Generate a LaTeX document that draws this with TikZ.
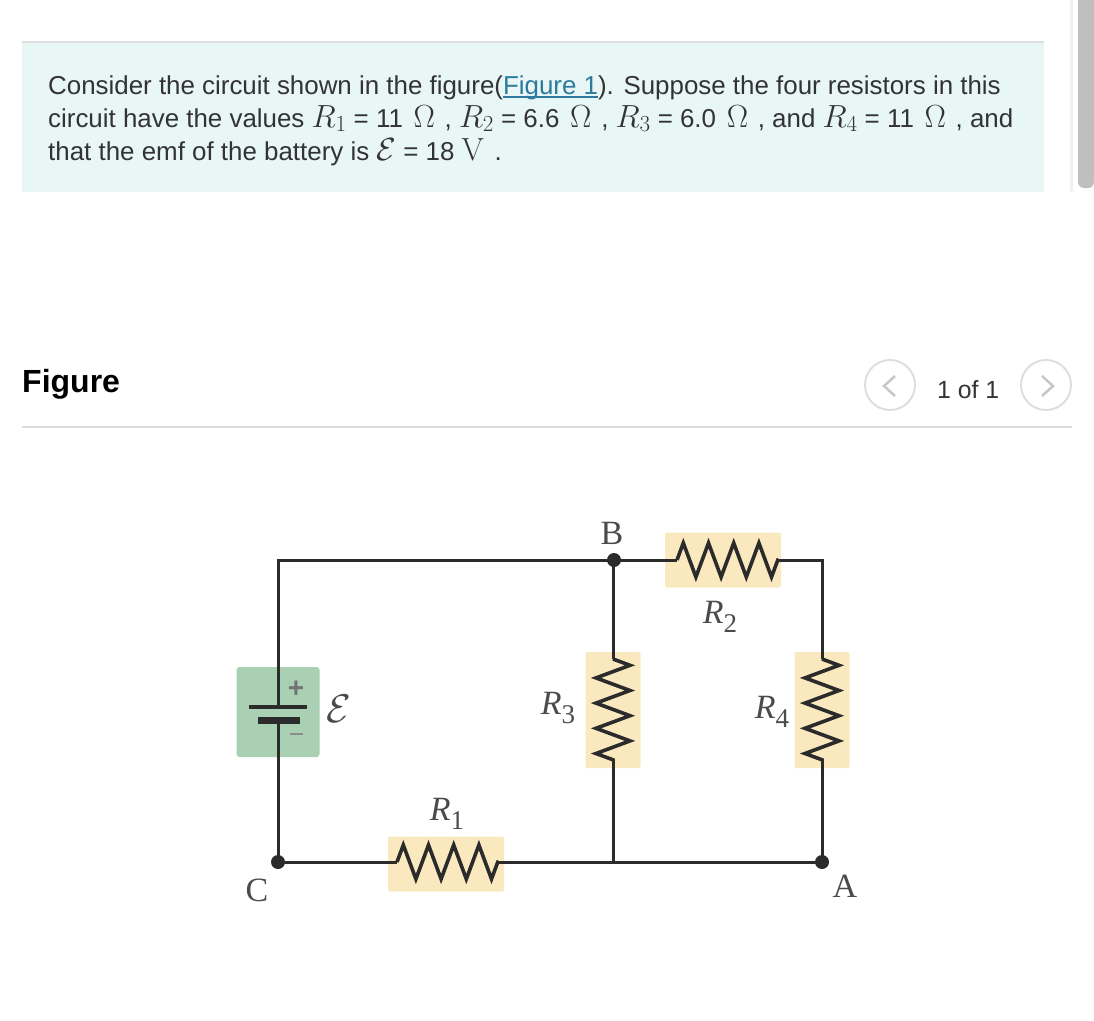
\RequirePackage{fix-cm}
\documentclass[tikz,border=0pt]{standalone}
\usepackage[no-math]{fontspec}
\setmainfont{Liberation Sans}
\newfontfamily\labelfont{Liberation Serif}
\usetikzlibrary{decorations.pathmorphing}
\DeclareMathSizes{25.9}{32}{23}{17}
\definecolor{bandfill}{HTML}{E8F6F6}
\definecolor{rulegray}{HTML}{DEDEDE}
\definecolor{bodytext}{HTML}{333333}
\definecolor{linkblue}{HTML}{2C7A9E}
\definecolor{wirecol}{HTML}{2B2B2B}
\definecolor{resfill}{HTML}{FAE8BE}
\definecolor{batfill}{HTML}{A9D0B2}
\newcommand{\rlabel}[1]{\textit{R}\raisebox{-9pt}{\fontsize{27}{28}\selectfont #1}}
\newcommand{\figlink}[1]{\textcolor{linkblue}{\setbox0\hbox{#1}\rlap{\rule[-3.5pt]{\wd0}{1.6pt}}\box0}}
\newcommand{\ohmsign}{\hspace{3.5pt}$\Omega$\hspace{9.7pt}}
\tikzset{
  txt/.style= {anchor=base west, inner sep=0, text=bodytext, font=\fontsize{25.9}{30}\selectfont},
  lbl/.style= {inner sep=0, text=wirecol!85, font=\labelfont\fontsize{34}{36}\selectfont},
  wire/.style= {draw=wirecol, line width=3pt},
  zig/.style= {wire, line width=3.6pt, decorate, decoration={zigzag, segment length=25.2pt, amplitude=17pt}},
  dot/.style= {circle, fill=wirecol, inner sep=0, minimum size=14pt},
  resh/.style= {fill=resfill, rounded corners=2pt, inner sep=0, minimum width=116pt, minimum height=55pt},
  resv/.style= {fill=resfill, rounded corners=2pt, inner sep=0, minimum width=55pt, minimum height=116pt},
  navbtn/.style= {circle, draw=rulegray, line width=2pt, inner sep=0, minimum size=50pt},
  chev/.style= {draw=black!22, line width=2.5pt},
}
\begin{document}
\begin{tikzpicture}[x=1pt, y=-1pt]
  \useasboundingbox (0,0) rectangle (1094,1020) ;
  % question band
  \fill [bandfill] (22,42) rectangle (1044,192) ;
  \draw [rulegray, line width=2pt] (22,42) -- (1044,42) ;
  \node [txt] (line1) at (48,94) {Consider the circuit shown in the figure(\figlink{Figure 1}). Suppose the four resistors in this} ;
  \node [txt] (line2) at (48,127) {circuit have the values $R_1$ = 11 \ohmsign, $R_2$ = 6.6 \ohmsign, $R_3$ = 6.0 \ohmsign, and $R_4$ = 11 \ohmsign, and} ;
  \node [txt] (line3) at (48,160) {that the emf of the battery is $\mathcal{E}$ = 18 $\mathrm{V}$\hspace{3pt} .} ;
  % scrollbar
  \fill [black!6] (1070,0) rectangle (1073,192) ;
  \fill [black!25, rounded corners=6pt] (1078,-10) rectangle (1094,188) ;
  % figure header
  \node [txt, text=black, font=\bfseries\fontsize{32}{36}\selectfont] (fighead) at (22,392) {Figure} ;
  \node [navbtn] (prev) at (890,385) {} ;
  \node [navbtn] (next) at (1046,385) {} ;
  \draw [chev] (895,376) -- (884,386) -- (895,396) ;
  \draw [chev] (1042,376) -- (1053,386) -- (1042,396) ;
  \node [txt, font=\fontsize{24.8}{30}\selectfont] (count) at (937,398) {1 of 1} ;
  \draw [rulegray, line width=2pt] (22,427) -- (1072,427) ;
  % parts behind the wires
  \node [fill=batfill, rounded corners=3pt, inner sep=0, minimum width=83pt, minimum height=90pt] (bat) at (278,712) {} ;
  \node [resh] (r1box) at (446,864) {} ;
  \node [resh] (r2box) at (723,560) {} ;
  \node [resv] (r3box) at (613,710) {} ;
  \node [resv] (r4box) at (822,710) {} ;
  % junctions
  \node [dot] (b) at (614,560) {} ;
  \node [dot] (c) at (278,862) {} ;
  \node [dot] (a) at (822,862) {} ;
  \coordinate (tl) at (278,560) ;
  \coordinate (tr) at (822,560) ;
  \coordinate (bm) at (613,862) ;
  \coordinate (r1in) at (397,862) ;
  \coordinate (r1out) at (498,862) ;
  \coordinate (r2in) at (677,560) ;
  \coordinate (r2out) at (778,560) ;
  \coordinate (r3in) at (613,659) ;
  \coordinate (r3out) at (613,760) ;
  \coordinate (r4in) at (822,659) ;
  \coordinate (r4out) at (822,760) ;
  % battery plates
  \node [fill=wirecol, inner sep=0, minimum width=58pt, minimum height=3.5pt] (platep) at (278,707) {} ;
  \node [fill=wirecol, inner sep=0, minimum width=42pt, minimum height=7pt] (platem) at (279,720) {} ;
  \draw [wire] (platep.center) -- (tl) -- (b.center) ;
  \draw [wire] (platem.center -| c) -- (c.center) ;
  \draw [wire] (c.center) -- (r1in) ;
  \draw [zig] (r1in) -- (r1out) ;
  \draw [wire] (r1out) -- (bm) -- (a.center) ;
  \draw [wire] (b.center) -- (r2in) ;
  \draw [zig] (r2in) -- (r2out) ;
  \draw [wire] (r2out) -- (tr) -- (r4in) ;
  \draw [wire] (b.center -| r3in) -- (r3in) ;
  \draw [zig] (r3in) -- (r3out) ;
  \draw [wire] (r3out) -- (bm) ;
  \draw [zig] (r4in) -- (r4out) ;
  \draw [wire] (r4out) -- (a.center) ;
  % labels
  \node [lbl] (bl) at (612,533) {B} ;
  \node [lbl] (cl) at (257,890) {C} ;
  \node [lbl] (al) at (845,886) {A} ;
  \node [lbl] (r1l) at (447,814) {\rlabel{1}} ;
  \node [lbl] (r2l) at (720,617) {\rlabel{2}} ;
  \node [lbl] (r3l) at (558,708) {\rlabel{3}} ;
  \node [lbl] (r4l) at (772,712) {\rlabel{4}} ;
  \node [lbl, font=\fontsize{40}{42}\selectfont] (el) at (339,709) {$\mathcal{E}$} ;
  \node [lbl, text=black!55, font=\bfseries\fontsize{28}{30}\selectfont] (plus) at (296,689) {+} ;
  \node [fill=black!45, inner sep=0, minimum width=13pt, minimum height=2.5pt] (minus) at (296,734) {} ;
\end{tikzpicture}
\end{document}
